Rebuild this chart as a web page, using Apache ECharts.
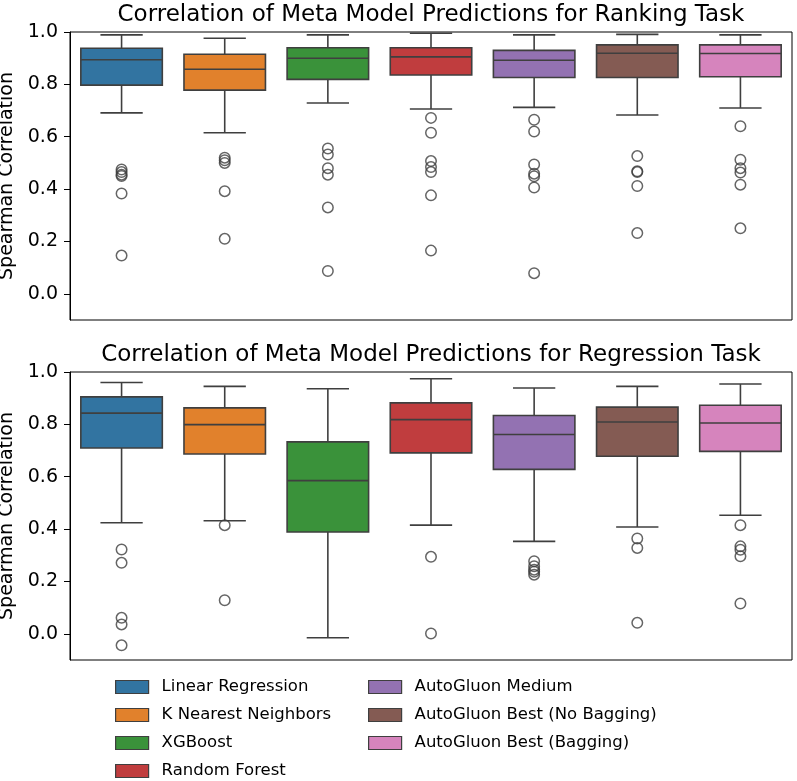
<!DOCTYPE html>
<html>
<head>
<meta charset="utf-8">
<script src="https://cdn.jsdelivr.net/npm/echarts@6/dist/echarts.min.js"></script>
<style>html,body{margin:0;padding:0;background:#fff;}#c{width:797px;height:781px;}</style>
</head>
<body>
<div id="c"></div>
<script>
const models = ['Linear Regression','K Nearest Neighbors','XGBoost','Random Forest','AutoGluon Medium','AutoGluon Best (No Bagging)','AutoGluon Best (Bagging)'];
const palette = ['#3274a1','#e1812c','#3a923a','#c03d3e','#9372b2','#845b53','#d684bd'];
const yTicks = [0.0, 0.2, 0.4, 0.6, 0.8, 1.0];
const titles = ['Correlation of Meta Model Predictions for Ranking Task','Correlation of Meta Model Predictions for Regression Task'];

// Ranking task
const rankingMin    = [0.691, 0.615, 0.729, 0.706, 0.712, 0.683, 0.710];
const rankingQ1     = [0.797, 0.778, 0.819, 0.836, 0.826, 0.826, 0.829];
const rankingMedian = [0.894, 0.858, 0.900, 0.905, 0.892, 0.919, 0.918];
const rankingQ3     = [0.938, 0.915, 0.940, 0.940, 0.930, 0.951, 0.951];
const rankingMax    = [0.989, 0.976, 0.989, 0.995, 0.989, 0.991, 0.989];
const rankingOutliers = [
  [0.475, 0.465, 0.455, 0.450, 0.383, 0.146],
  [0.520, 0.510, 0.500, 0.392, 0.210],
  [0.555, 0.532, 0.480, 0.455, 0.330, 0.087],
  [0.672, 0.615, 0.507, 0.484, 0.465, 0.376, 0.165],
  [0.665, 0.620, 0.494, 0.459, 0.449, 0.406, 0.079],
  [0.526, 0.468, 0.465, 0.412, 0.232],
  [0.640, 0.512, 0.480, 0.463, 0.417, 0.250]
];

// Regression task
const regMin    = [0.424, 0.432, -0.015, 0.415, 0.353, 0.408, 0.453];
const regQ1     = [0.710, 0.687, 0.389, 0.691, 0.628, 0.678, 0.697];
const regMedian = [0.843, 0.799, 0.585, 0.818, 0.761, 0.809, 0.805];
const regQ3     = [0.905, 0.863, 0.733, 0.882, 0.834, 0.866, 0.873];
const regMax    = [0.960, 0.945, 0.936, 0.974, 0.939, 0.945, 0.954];
const regOutliers = [
  [0.322, 0.271, 0.061, 0.036, -0.044],
  [0.415, 0.128],
  [],
  [0.294, 0.001],
  [0.277, 0.258, 0.245, 0.237, 0.226],
  [0.364, 0.328, 0.042],
  [0.415, 0.334, 0.321, 0.296, 0.116]
];

const EDGE = '#3f3f3f';
const FONT = 'DejaVu Sans';

function boxData(mn, q1, md, q3, mx) {
  return models.map((m, i) => [i, mn[i], q1[i], md[i], q3[i], mx[i]]);
}
function outlierData(out) {
  const d = [];
  out.forEach((arr, i) => arr.forEach(v => d.push([i, v])));
  return d;
}

function renderBox(params, api) {
  const i = api.value(0);
  const mn = api.value(1), q1 = api.value(2), md = api.value(3), q3 = api.value(4), mx = api.value(5);
  const band = api.size([1, 0])[0];
  const bw = band * 0.79, cw = band * 0.41;
  const pMin = api.coord([i, mn]), pQ1 = api.coord([i, q1]), pMd = api.coord([i, md]), pQ3 = api.coord([i, q3]), pMax = api.coord([i, mx]);
  const x = pMin[0];
  const ls = { stroke: EDGE, lineWidth: 1.6 };
  return {
    type: 'group',
    children: [
      { type: 'line', shape: { x1: x, y1: pQ3[1], x2: x, y2: pMax[1] }, style: ls },
      { type: 'line', shape: { x1: x, y1: pQ1[1], x2: x, y2: pMin[1] }, style: ls },
      { type: 'line', shape: { x1: x - cw / 2, y1: pMax[1], x2: x + cw / 2, y2: pMax[1] }, style: ls },
      { type: 'line', shape: { x1: x - cw / 2, y1: pMin[1], x2: x + cw / 2, y2: pMin[1] }, style: ls },
      { type: 'rect', shape: { x: x - bw / 2, y: pQ3[1], width: bw, height: pQ1[1] - pQ3[1] }, style: { fill: palette[i], stroke: EDGE, lineWidth: 1.6 } },
      { type: 'line', shape: { x1: x - bw / 2, y1: pMd[1], x2: x + bw / 2, y2: pMd[1] }, style: ls }
    ]
  };
}

const gridTops = [32, 372];
const option = {
  animation: false,
  backgroundColor: '#fff',
  title: titles.map((t, k) => ({
    text: t, left: 431, top: gridTops[k] - 28, textAlign: 'center', padding: 0,
    textStyle: { fontFamily: FONT, fontSize: 23, fontWeight: 'normal', color: '#000' }
  })),
  grid: gridTops.map(t => ({ left: 70, right: 5, top: t, height: 288, outerBoundsMode: 'none', containLabel: false, show: true, borderColor: '#000', borderWidth: 1, backgroundColor: 'transparent' })),
  xAxis: gridTops.map((t, k) => ({
    type: 'category', gridIndex: k, data: models, boundaryGap: true,
    axisLine: { show: false }, axisTick: { show: false }, axisLabel: { show: false }, splitLine: { show: false }
  })),
  yAxis: gridTops.map((t, k) => ({
    type: 'value', gridIndex: k, min: -0.1, max: 1.0,
    name: 'Spearman Correlation', nameLocation: 'middle', nameGap: 53, nameRotate: 90,
    nameTextStyle: { fontFamily: FONT, fontSize: 19, color: '#000' },
    axisLine: { show: true, lineStyle: { color: '#000', width: 1 } },
    axisTick: { show: true, length: 6, customValues: yTicks, lineStyle: { color: '#000', width: 1 } },
    axisLabel: { customValues: yTicks, margin: 12, fontFamily: FONT, fontSize: 19, color: '#000', formatter: v => v.toFixed(1) },
    splitLine: { show: false }
  })),
  legend: [
    { data: models.slice(0, 4), orient: 'vertical', left: 115, top: 677 },
    { data: models.slice(4), orient: 'vertical', left: 368, top: 677 }
  ].map(l => Object.assign(l, {
    icon: 'rect', itemWidth: 33, itemHeight: 13, itemGap: 8, padding: 0, selectedMode: false,
    itemStyle: { borderColor: EDGE, borderWidth: 1.2 },
    textStyle: { fontFamily: FONT, fontSize: 16.5, color: '#000', lineHeight: 20, padding: [0, 0, 0, 8] }
  })),
  series: [
    { type: 'custom', name: 'rankingBoxes', xAxisIndex: 0, yAxisIndex: 0, renderItem: renderBox,
      encode: { x: 0, y: [1, 2, 3, 4, 5] }, data: boxData(rankingMin, rankingQ1, rankingMedian, rankingQ3, rankingMax) },
    { type: 'custom', name: 'regressionBoxes', xAxisIndex: 1, yAxisIndex: 1, renderItem: renderBox,
      encode: { x: 0, y: [1, 2, 3, 4, 5] }, data: boxData(regMin, regQ1, regMedian, regQ3, regMax) },
    { type: 'scatter', name: 'rankingOut', xAxisIndex: 0, yAxisIndex: 0, symbol: 'circle', symbolSize: 10.5,
      itemStyle: { color: 'rgba(255,255,255,0)', borderColor: EDGE, borderWidth: 1.5 }, data: outlierData(rankingOutliers) },
    { type: 'scatter', name: 'regressionOut', xAxisIndex: 1, yAxisIndex: 1, symbol: 'circle', symbolSize: 10.5,
      itemStyle: { color: 'rgba(255,255,255,0)', borderColor: EDGE, borderWidth: 1.5 }, data: outlierData(regOutliers) }
  ].concat(models.map((m, i) => ({ type: 'bar', name: m, xAxisIndex: 0, yAxisIndex: 0, data: [], itemStyle: { color: palette[i] } })))
};

const chart = echarts.init(document.getElementById('c'), null, { renderer: 'canvas' });
chart.setOption(option);
</script>
</body>
</html>
